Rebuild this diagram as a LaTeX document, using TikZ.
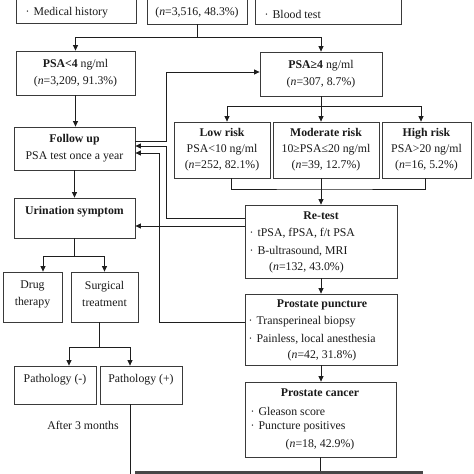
\documentclass[tikz,border=0pt]{standalone}
\usepackage{fontspec}
\setmainfont{Liberation Serif}
\usetikzlibrary{arrows.meta}
\definecolor{boxc}{HTML}{3A3A3A}
\definecolor{linec}{HTML}{1E1E1E}
\definecolor{txtc}{HTML}{1A1A1A}
\definecolor{barc}{HTML}{474747}
\begin{document}
\begin{tikzpicture}[x=1pt,y=-1pt,
  font=\fontsize{11.8}{17}\selectfont, text=txtc,
  box/.style={draw=boxc, line width=0.8pt, inner sep=0pt, align=center},
  riskbox/.style={box, font=\fontsize{11.8}{16}\selectfont},
  conn/.style={draw=linec, line width=0.8pt},
  arr/.style={conn, -{Triangle[length=5.5pt,width=5pt]}},
  txt/.style={inner sep=0pt, align=center},
  lt/.style={inner sep=0pt, anchor=west},
  barbox/.style={draw=barc, line width=3.5pt, inner sep=0pt}]
\useasboundingbox (0,0) rectangle (474,474);
\clip (0,0) rectangle (474,474);
\fill[white] (0,0) rectangle (474,474);

% top boxes (cut off)
\node[box, minimum width=120pt, minimum height=43pt] (A) at (76,1.5) {};
\node[box, minimum width=100pt, minimum height=44pt] (B) at (197,2) {};
\node[box, minimum width=146pt, minimum height=44pt] (C) at (328,2) {};
\node[lt] (At) at (25.5,13) {·\hspace{4pt}Medical history};
\node[txt] (Bt) at (197,13) {(\textit{n}=3,516, 48.3\%)};
\node[lt] (Ct) at (264.5,14) {·\hspace{4pt}Blood test};

% PSA level boxes
\node[box, minimum width=119pt, minimum height=44pt] (L4) at (75.5,73) {\textbf{PSA<4} ng/ml\\(\textit{n}=3,209, 91.3\%)};
\node[box, minimum width=122pt, minimum height=44pt] (G4) at (321,74) {\textbf{PSA≥4} ng/ml\\(\textit{n}=307, 8.7\%)};

% left column
\node[box, minimum width=121pt, minimum height=43pt] (FU) at (74.5,148.5) {\textbf{Follow up}\\PSA test once a year};
\node[box, minimum width=121pt, minimum height=40pt] (US) at (74.5,218) {};
\node[txt] (USt) at (74.5,212) {\textbf{Urination symptom}};
\node[box, minimum width=59pt, minimum height=50pt] (DT) at (32.5,297) {};
\node[txt] (DTt) at (32.5,294) {Drug\\therapy};
\node[box, minimum width=67pt, minimum height=50pt] (ST) at (104.5,297) {};
\node[txt] (STt) at (104.5,294) {Surgical\\treatment};
\node[box, minimum width=82pt, minimum height=38pt] (PN) at (55,385) {};
\node[txt] (PNt) at (55,380) {Pathology (-)};
\node[box, minimum width=82pt, minimum height=38pt] (PP) at (141,385) {};
\node[txt] (PPt) at (141,380) {Pathology (+)};
\node[txt] (AM) at (83,425) {After 3 months};

% risk boxes
\node[riskbox, minimum width=96pt, minimum height=56pt] (LR) at (222,150) {\textbf{Low risk}\\PSA<10 ng/ml\\(\textit{n}=252, 82.1\%)};
\node[riskbox, minimum width=106pt, minimum height=56pt] (MR) at (326,150) {\textbf{Moderate risk}\\10≥PSA≤20 ng/ml\\(\textit{n}=39, 12.7\%)};
\node[riskbox, minimum width=89pt, minimum height=56pt] (HR) at (426.5,150) {\textbf{High risk}\\PSA>20 ng/ml\\(\textit{n}=16, 5.2\%)};

% re-test
\node[box, minimum width=152pt, minimum height=73pt] (RT) at (321,241.5) {};
\node[txt] (RT1) at (321,216) {\textbf{Re-test}};
\node[lt] (RT2) at (249.5,233) {·\hspace{4pt}tPSA, fPSA, f/t PSA};
\node[lt] (RT3) at (249.5,251) {·\hspace{4pt}B-ultrasound, MRI};
\node[lt] (RT4) at (269,268) {(\textit{n}=132, 43.0\%)};

% prostate puncture
\node[box, minimum width=152pt, minimum height=71pt] (PU) at (321,329.5) {};
\node[txt] (PU1) at (322,305) {\textbf{Prostate puncture}};
\node[lt] (PU2) at (248.5,322) {·\hspace{4pt}Transperineal biopsy};
\node[lt] (PU3) at (248.5,339) {·\hspace{4pt}Painless, local anesthesia};
\node[txt] (PU4) at (322,356) {(\textit{n}=42, 31.8\%)};

% prostate cancer
\node[box, minimum width=151pt, minimum height=75pt] (PC) at (320.5,419.5) {};
\node[txt] (PC1) at (320,393) {\textbf{Prostate cancer}};
\node[lt] (PC2) at (250.5,411) {·\hspace{4pt}Gleason score};
\node[lt] (PC3) at (250.5,427) {·\hspace{4pt}Puncture positives};
\node[txt] (PC4) at (320,445) {(\textit{n}=18, 42.9\%)};

% bottom row (cut off)
\node[barbox, minimum width=93pt, minimum height=30pt] (R1) at (183.5,488) {};
\node[barbox, minimum width=90pt, minimum height=30pt] (R2) at (275,488) {};
\node[barbox, minimum width=101pt, minimum height=30pt] (R3) at (370.5,488) {};

% connectors
\coordinate (j1) at (197,37);
\draw[conn] (B.south) -- (j1);
\draw[arr] (j1) -| (L4.north);
\draw[arr] (j1) -| (G4.north);
\draw[arr] (L4.south) -- (L4.south |- FU.north);

\coordinate (k1) at (166,141.5);
\draw[arr] ([yshift=7pt]FU.east) -- (k1) |- ([yshift=2pt]G4.west);

\coordinate (j2) at (321,106);
\draw[conn] (G4.south) -- (j2);
\draw[arr] (j2) -| ([xshift=5pt]LR.north);
\draw[arr] (j2) -| ([xshift=-5.5pt]HR.north);
\draw[arr] (j2) -- (j2 |- MR.north);

\coordinate (j3) at (321,189);
\draw[conn] ([xshift=9pt]LR.south) |- (j3) -| ([xshift=-1.5pt]HR.south);
\draw[arr] ([xshift=-5pt]MR.south) -- (RT.north);

\coordinate (k2) at (166,146);
\draw[arr] ([yshift=23.5pt]RT.west) -| (k2) -- ([yshift=2.5pt]FU.east);
\draw[arr] ([yshift=15.5pt]RT.west) -- ([yshift=-8pt]US.east);
\coordinate (k3) at (159,153);
\draw[arr] ([yshift=7.5pt]PU.west) -| (k3) -- ([yshift=-4.5pt]FU.east);

\draw[arr] (RT.south) -- (PU.north);
\draw[arr] (PU.south) -- (PU.south |- PC.north);
\draw[conn] (PC.south) -- (PC.south |- R2.north);

\draw[arr] (FU.south) -- (US.north);
\coordinate (j4) at (74.5,256);
\draw[conn] (US.south) -- (j4);
\draw[arr] (j4) -| ([xshift=10.5pt]DT.north);
\draw[arr] (j4) -| (ST.north);

\coordinate (j5) at (99,347);
\draw[conn] ([xshift=-5.5pt]ST.south) -- (j5);
\draw[arr] (j5) -| ([xshift=14pt]PN.north);
\draw[arr] (j5) -| ([xshift=-11pt]PP.north);
\coordinate (bot) at (130,480);
\draw[conn] ([xshift=-11pt]PP.south) -- (bot);
\end{tikzpicture}
\end{document}
